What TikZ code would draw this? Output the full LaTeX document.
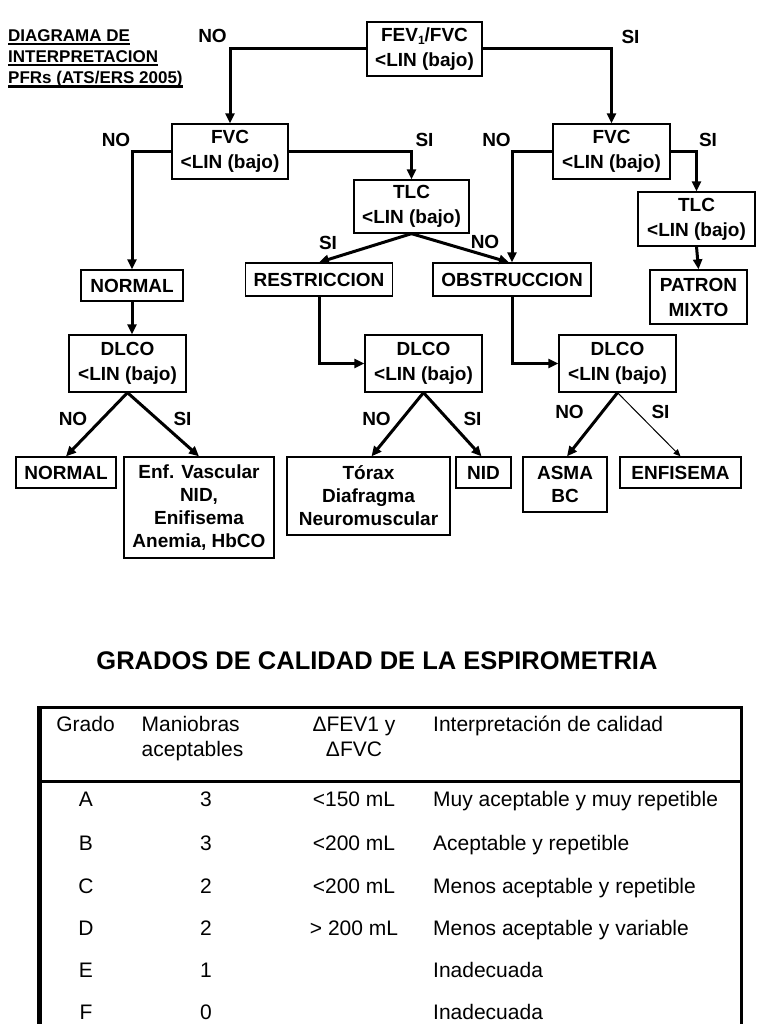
\documentclass[tikz,border=0pt]{standalone}
\usepackage{fontspec}
\setmainfont{Liberation Sans}
\usetikzlibrary{arrows.meta}
\begin{document}
\begin{tikzpicture}[x=1pt,y=-1pt,
  box/.style={draw, line width=1.3pt, inner sep=0pt, align=center,
    font=\bfseries\fontsize{19}{25}\selectfont},
  lbl/.style={font=\bfseries\fontsize{19}{23}\selectfont, inner sep=0pt},
  ttl/.style={font=\bfseries\fontsize{17}{21}\selectfont, inner sep=0pt, anchor=base west},
  uline/.style={line width=2.2pt},
  conn/.style={line width=3pt, -{Triangle[length=10pt,width=9pt]}},
  thinconn/.style={line width=1pt, -{Triangle[length=7pt,width=6pt]}},
  tcell/.style={font=\fontsize{21}{25}\selectfont, inner sep=0pt, anchor=base},
  tleft/.style={font=\fontsize{21}{25}\selectfont, inner sep=0pt, anchor=base west}]
\useasboundingbox (0,0) rectangle (768,1024);
\fill[white] (0,0) rectangle (768,1024);

% title block
\node[ttl] (t1) at (8,41.7) {DIAGRAMA DE};
\node[ttl] (t2) at (8,62.7) {INTERPRETACION};
\node[ttl] (t3) at (8,84) {PFRs (ATS/ERS 2005)};
\draw[uline] (8,44) -- (t1.east |- 0,44);
\draw[uline] (8,65) -- (t2.east |- 0,65);
\draw[uline] (8,86.5) -- (t3.east |- 0,86.5);

% boxes
\node[box, minimum width=115pt, minimum height=54pt] (fev) at (424.5,49) {FEV\raisebox{-3.5pt}{\fontsize{12}{12}\selectfont 1}/FVC\\<LIN (bajo)};
\node[box, minimum width=116pt, minimum height=55pt] (fvcL) at (230,151.5) {FVC\\<LIN (bajo)};
\node[box, minimum width=117pt, minimum height=55pt] (fvcR) at (611.5,151.5) {FVC\\<LIN (bajo)};
\node[box, minimum width=115pt, minimum height=53pt] (tlcM) at (411.5,206.5) {TLC\\<LIN (bajo)};
\node[box, minimum width=117pt, minimum height=54pt] (tlcR) at (696.5,219) {TLC\\<LIN (bajo)};
\node[box, minimum width=97pt, minimum height=54pt] (patron) at (698.5,297) {PATRON\\MIXTO};
\node[box, minimum width=102pt, minimum height=31pt] (normal1) at (132,285.5) {NORMAL};
\node[box, minimum width=147pt, minimum height=33pt] (restr) at (319,279.5) {RESTRICCION};
\node[box, minimum width=158pt, minimum height=33pt] (obst) at (512,279.5) {OBSTRUCCION};
\node[box, minimum width=117pt, minimum height=57pt] (dlcoL) at (127.5,363.5) {DLCO\\<LIN (bajo)};
\node[box, minimum width=117pt, minimum height=57pt] (dlcoM) at (423.5,363.5) {DLCO\\<LIN (bajo)};
\node[box, minimum width=117pt, minimum height=57pt] (dlcoR) at (617.5,363.5) {DLCO\\<LIN (bajo)};
\node[box, minimum width=100pt, minimum height=31pt] (normal2) at (66,472.5) {NORMAL};
\node[box, minimum width=150pt, minimum height=101pt, font=\bfseries\fontsize{19}{23}\selectfont] (enf) at (199,507.5) {Enf. Vascular\\NID,\\Enifisema\\Anemia, HbCO};
\node[box, minimum width=163pt, minimum height=78pt, font=\bfseries\fontsize{19}{23}\selectfont] (torax) at (368.5,496) {Tórax\\Diafragma\\Neuromuscular};
\node[box, minimum width=55pt, minimum height=31pt] (nid) at (483.5,472.5) {NID};
\node[box, minimum width=84pt, minimum height=55pt, font=\bfseries\fontsize{19}{23}\selectfont] (asma) at (565,484.5) {ASMA\\BC};
\node[box, minimum width=121pt, minimum height=31pt] (enfis) at (680.5,472.5) {ENFISEMA};

% connectors
\draw[conn] (fev.west) -| (fvcL.north);
\draw[conn] (fev.east) -| (fvcR.north);
\draw[conn] (fvcL.west) -| (normal1.north);
\draw[conn] (fvcL.east) -| (tlcM.north);
\draw[conn] (fvcR.west) -| (obst.north);
\draw[conn] (fvcR.east) -| (tlcR.north);
\draw[conn] (tlcR.south) -- (patron.north);
\draw[conn] (tlcM.south) -- (restr.north);
\draw[conn] (tlcM.south) -- ([xshift=-3pt]obst.north);
\draw[conn] (normal1.south) -- (normal1.south |- dlcoL.north);
\draw[conn] (restr.south) |- (dlcoM.west);
\draw[conn] (obst.south) |- (dlcoR.west);
\draw[conn] (dlcoL.south) -- (normal2.north);
\draw[conn] (dlcoL.south) -- (enf.north);
\draw[conn] (dlcoM.south) -- ([xshift=3pt]torax.north);
\draw[conn] (dlcoM.south) -- ([xshift=-2pt]nid.north);
\draw[conn] (dlcoR.south) -- ([xshift=2pt]asma.north);
\draw[thinconn] (dlcoR.south) -- (enfis.north);

% labels
\node[lbl] (l1) at (212.5,36) {NO};
\node[lbl] (l2) at (630.5,37) {SI};
\node[lbl] (l3) at (116,140) {NO};
\node[lbl] (l4) at (424.5,140) {SI};
\node[lbl] (l5) at (496.5,140) {NO};
\node[lbl] (l6) at (708,140) {SI};
\node[lbl] (l7) at (328,243) {SI};
\node[lbl] (l8) at (485,242) {NO};
\node[lbl] (l9) at (73,419) {NO};
\node[lbl] (l10) at (182.5,419) {SI};
\node[lbl] (l11) at (376.5,419) {NO};
\node[lbl] (l12) at (472.5,418.5) {SI};
\node[lbl] (l13) at (569.5,412) {NO};
\node[lbl] (l14) at (660.5,412) {SI};

% table title
\node[font=\bfseries\fontsize{25.5}{30}\selectfont, inner sep=0pt, anchor=base] (gtitle) at (377,669) {GRADOS DE CALIDAD DE LA ESPIROMETRIA};

% table
\draw[line width=3pt] (39,707.5) -- (741,707.5) -- (741,1034);
\draw[line width=5pt] (39.5,706) -- (39.5,1034);
\draw[line width=3pt] (39,781.5) -- (741,781.5);

\node[tcell] (h1) at (85.5,731.7) {Grado};
\node[tleft] (h2a) at (141.5,731.7) {Maniobras};
\node[tleft] (h2b) at (141.5,756.7) {aceptables};
\node[tcell] (h3a) at (354,731.7) {ΔFEV1 y};
\node[tcell] (h3b) at (354,756.7) {ΔFVC};
\node[tleft] (h4) at (433,731.7) {Interpretación de calidad};

\node[tcell] (ga) at (86,806.7) {A};
\node[tcell] (na) at (206,806.7) {3};
\node[tcell] (va) at (354,806.7) {<150 mL};
\node[tleft] (ia) at (433,806.7) {Muy aceptable y muy repetible};

\node[tcell] (gb) at (86,850) {B};
\node[tcell] (nb) at (206,850) {3};
\node[tcell] (vb) at (354,850) {<200 mL};
\node[tleft] (ib) at (433,850) {Aceptable y repetible};

\node[tcell] (gc) at (86,893) {C};
\node[tcell] (nc) at (206,893) {2};
\node[tcell] (vc) at (354,893) {<200 mL};
\node[tleft] (ic) at (433,893) {Menos aceptable y repetible};

\node[tcell] (gd) at (86,935) {D};
\node[tcell] (nd) at (206,935) {2};
\node[tcell] (vd) at (354,935) {> 200 mL};
\node[tleft] (id) at (433,935) {Menos aceptable y variable};

\node[tcell] (ge) at (86,977) {E};
\node[tcell] (ne) at (206,977) {1};
\node[tleft] (ie) at (433,977) {Inadecuada};

\node[tcell] (gf) at (86,1019) {F};
\node[tcell] (nf) at (206,1019) {0};
\node[tleft] (if) at (433,1019) {Inadecuada};
\end{tikzpicture}
\end{document}
